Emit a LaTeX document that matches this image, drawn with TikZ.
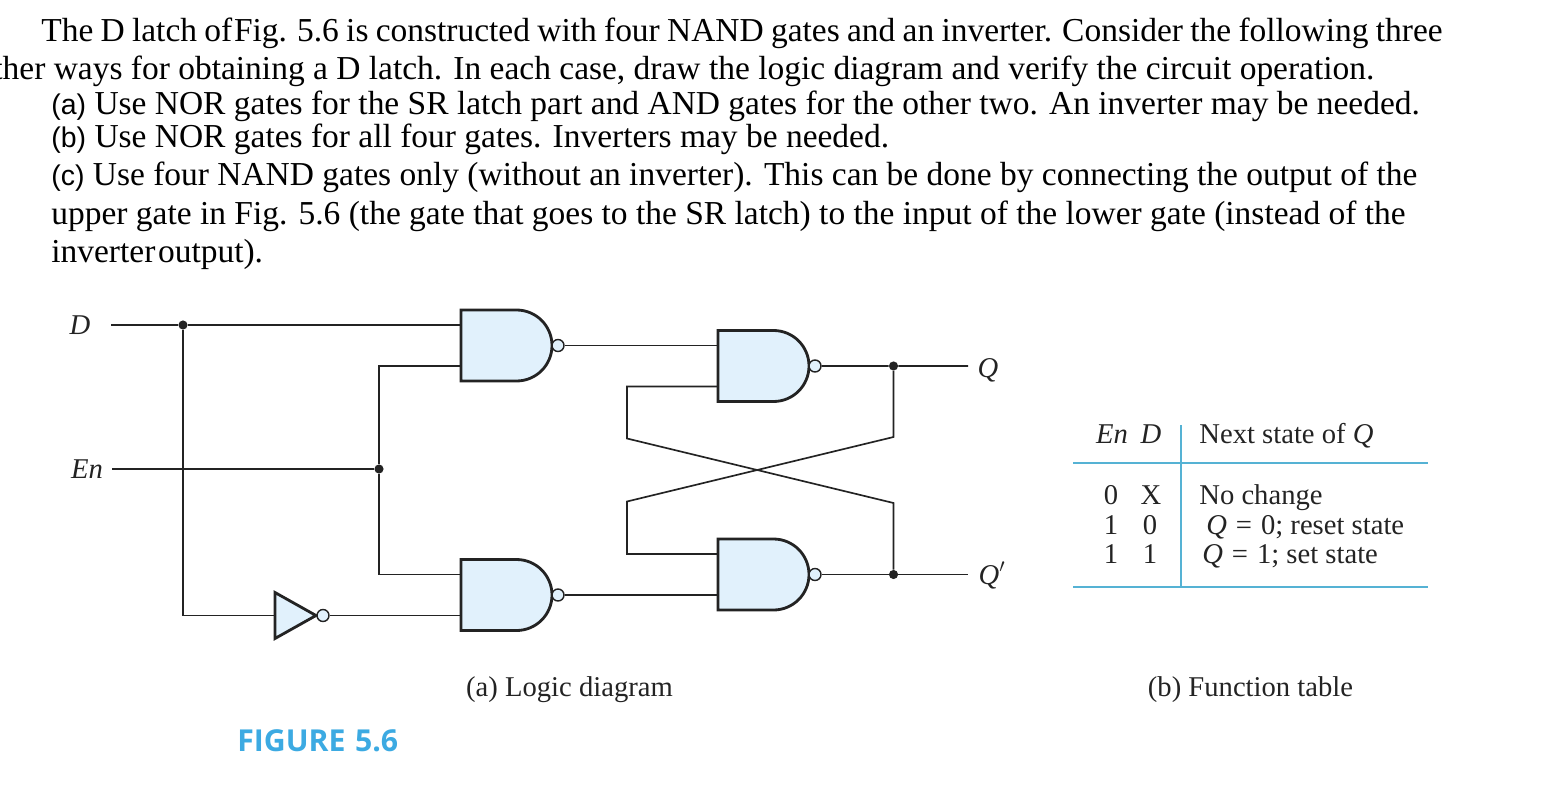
\documentclass[tikz,border=0pt]{standalone}
\usepackage{fontspec}
\setmainfont{Liberation Serif}
\newfontfamily\labelsans{Liberation Sans}
\newfontfamily\figsans{Open Sans}
\usepackage{tikz}
\definecolor{gatefill}{RGB}{225,241,252}
\definecolor{tableblue}{RGB}{85,178,212}
\definecolor{figblue}{RGB}{60,170,226}
\definecolor{inkgray}{RGB}{35,35,35}
\newcommand{\tag}[1]{{\labelsans\fontsize{16.2}{18}\selectfont #1}}
\tikzset{
  prob/.style={anchor=base west, inner sep=0pt, font=\fontsize{19.05}{21}\selectfont},
  txt/.style={anchor=base, inner sep=0pt, text=inkgray, font=\fontsize{16.3}{18}\selectfont},
  txtl/.style={txt, anchor=base west},
  gate/.style={draw=inkgray, fill=gatefill, line width=1.6pt, line join=miter},
  bub/.style={circle, draw=inkgray, fill=gatefill, line width=.8pt, inner sep=0pt, minimum size=.24cm},
  wire/.style={draw=inkgray, line width=.95pt},
  dot/.style={circle, fill=inkgray, inner sep=0pt, minimum size=5.2pt},
  tline/.style={draw=tableblue, line width=1.1pt},
  nandg/.pic={
    \draw[gate] (0,0) -- (55.5,0) arc[start angle=-90, end angle=90, x radius=35.5, y radius=35.5] -- (0,71) -- cycle;
    \node[bub] (-bub) at (97,35.5) {};
    \coordinate (-in1) at (0,15);
    \coordinate (-in2) at (0,56);
  },
  invg/.pic={
    \draw[gate] (0,-23) -- (41,0) -- (0,23) -- cycle;
    \node[bub] (-bub) at (48,0) {};
    \coordinate (-in) at (0,0);
  },
}
\begin{document}
\begin{tikzpicture}[x=.02cm,y=-.02cm]
\useasboundingbox (0,0) rectangle (1554,784);
% problem text
\node[prob] (t1) at (41,42) {\spaceskip=.217em The D latch of\hspace{1pt}Fig. 5.6 is constructed with four NAND gates and an inverter. Consider the following three};
\node[prob] (t2) at (-7,80) {ther ways for obtaining a D latch. In each case, draw the logic diagram and verify the circuit operation.};
\node[prob] (t3) at (51,114) {\tag{(a)} Use NOR gates for the SR latch part and AND gates for the other two. An inverter may be needed.};
\node[prob] (t4) at (51,147) {\tag{(b)} Use NOR gates for all four gates. Inverters may be needed.};
\node[prob] (t5) at (51,185) {\tag{(c)} Use four NAND gates only (without an inverter). This can be done by connecting the output of the};
\node[prob] (t6) at (51,224) {upper gate in Fig. 5.6 (the gate that goes to the SR latch) to the input of the lower gate (instead of the};
\node[prob] (t7) at (51,262) {inverter\hspace{1.5pt}output).};
% gates
\pic (g1) at (461,310) {nandg};
\pic (g2) at (718,330.5) {nandg};
\pic (g3) at (461,559.5) {nandg};
\pic (g4) at (718,539) {nandg};
\pic (inv) at (275,615.5) {invg};
% junctions and free ends
\node[dot] (jD) at (183,325) {};
\node[dot] (jEn) at (379,469) {};
\node[dot] (jQ) at (893.5,366) {};
\node[dot] (jQb) at (893.5,574.5) {};
\coordinate (inD) at (111,325);
\coordinate (inEn) at (112,469);
\coordinate (outQ) at (968,366);
\coordinate (outQb) at (968,574.5);
\coordinate (x1) at (627,438.5);
\coordinate (x2) at (893.5,503);
\coordinate (x3) at (893.5,437);
\coordinate (x4) at (627,501.5);
% wires
\draw[wire] (inD) -- (jD) -- (g1-in1);
\draw[wire] (jD) |- (inv-in);
\draw[wire] (inv-bub) -- (g3-in2);
\draw[wire] (inEn) -- (jEn);
\draw[wire] (jEn) |- (g1-in2);
\draw[wire] (jEn) |- (g3-in1);
\draw[wire] (g1-bub) -- (g2-in1);
\draw[wire] (g3-bub) -- (g4-in2);
\draw[wire] (g2-bub) -- (jQ) -- (outQ);
\draw[wire] (g4-bub) -- (jQb) -- (outQb);
\draw[wire] (g2-in2) -| (x1) -- (x2) -- (jQb);
\draw[wire] (g4-in1) -| (x4) -- (x3) -- (jQ);
% labels
\node[txt] (lD) at (80,334) {\textit{D}};
\node[txt] (lEn) at (87,478) {\textit{En}};
\node[txt] (lQ) at (988,377) {\textit{Q}};
\node[txt] (lQb) at (992,584) {\textit{Q}$'$};
\node[txt] (capa) at (569.5,696) {(a) Logic diagram};
\node[txt] (capb) at (1250.5,696) {(b) Function table};
\node[anchor=base west, inner sep=0pt, text=figblue, font=\figsans\bfseries\fontsize{17.2}{19}\selectfont] (fig) at (237,751) {FIGURE\hspace{1pt} 5.6};
% function table
\draw[tline] (1073,463) -- (1428,463);
\draw[tline] (1073,587) -- (1428,587);
\draw[tline] (1181,425) -- (1181,587);
\node[txt] (hEn) at (1112,443) {\textit{En}};
\node[txt] (hD) at (1151,443) {\textit{D}};
\node[txtl] (hN) at (1199,443) {Next state of \textit{Q}};
\node[txt] (a1) at (1111,504) {0};
\node[txt] (a2) at (1151,504) {X};
\node[txtl] (a3) at (1199,504) {No change};
\node[txt] (b1) at (1111,534) {1};
\node[txt] (b2) at (1150,534) {0};
\node[txtl] (b3) at (1206,534) {\textit{Q}\hspace{1pt} = \hspace{1pt}0; reset state};
\node[txt] (c1) at (1111,563) {1};
\node[txt] (c2) at (1150,563) {1};
\node[txtl] (c3) at (1202,563) {\textit{Q}\hspace{1pt} = \hspace{1pt}1; set state};
\end{tikzpicture}
\end{document}
